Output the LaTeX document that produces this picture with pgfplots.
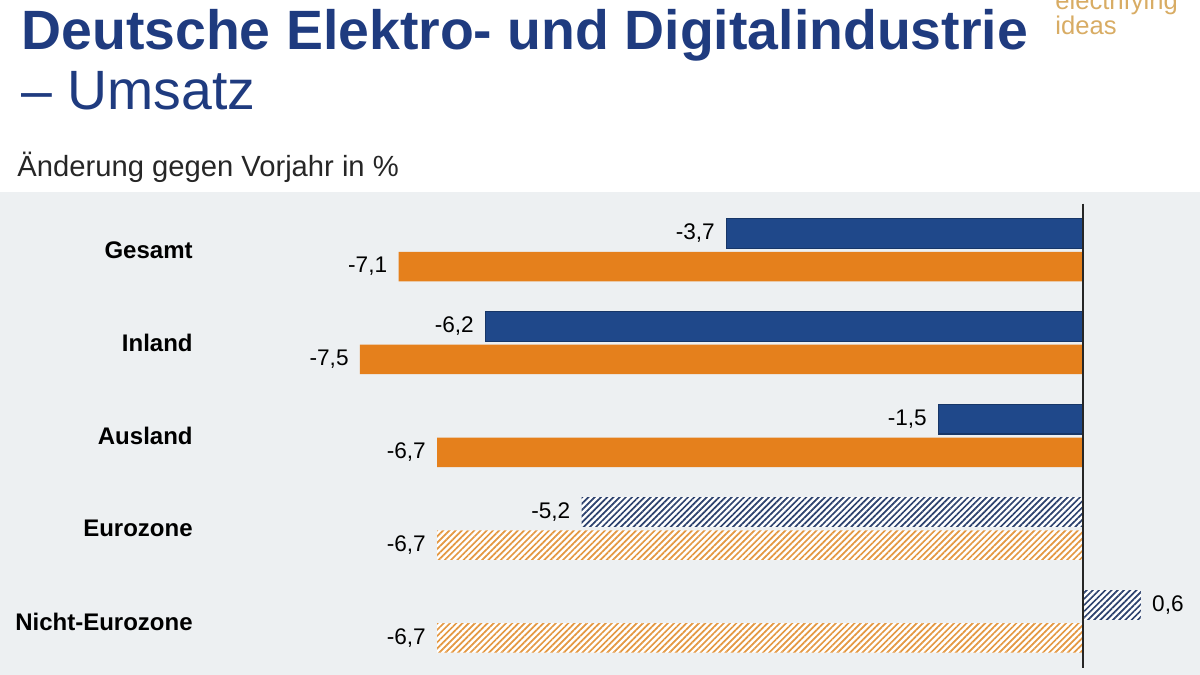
\documentclass[border=0pt]{standalone}
\usepackage{pgfplots}
\pgfplotsset{compat=1.18}
\usetikzlibrary{patterns.meta}
\usepackage{fontspec}
\setmainfont{Liberation Sans}
\definecolor{titleblue}{RGB}{31,59,127}
\definecolor{barblue}{RGB}{31,72,138}
\definecolor{barorange}{RGB}{229,128,28}
\definecolor{hatchblue}{RGB}{45,66,110}
\definecolor{hatchorange}{RGB}{228,152,66}
\definecolor{bggray}{RGB}{237,240,242}
\definecolor{logogold}{RGB}{216,172,100}
\begin{document}
\begin{tikzpicture}
\useasboundingbox (0,0) rectangle (600pt,337.5pt);
\fill[bggray] (0,0) rectangle (600pt,241.5pt);
\node[anchor=base west, inner sep=0, text=titleblue, font=\fontsize{27.7}{32}\selectfont\bfseries] at (10.5pt,312.5pt) {Deutsche Elektro- und Digitalindustrie};
\node[anchor=base west, inner sep=0, text=titleblue, font=\fontsize{27.7}{32}\selectfont] at (10.5pt,282.5pt) {– Umsatz};
\node[anchor=base west, inner sep=0, text=black!85, font=\fontsize{14.6}{17}\selectfont] at (8.5pt,249pt) {Änderung gegen Vorjahr in \%};
\node[anchor=base west, inner sep=0, text=logogold, font=\fontsize{12.8}{15}\selectfont] at (527.5pt,332.5pt) {electrifying};
\node[anchor=base west, inner sep=0, text=logogold, font=\fontsize{12.8}{15}\selectfont] at (527.5pt,320.3pt) {ideas};
\begin{axis}[
  at={(155.9pt,3.55pt)}, anchor=south west,
  scale only axis, width=433.8pt, height=232.15pt,
  xbar, bar width=14.75pt,
  xmin=-8, xmax=1, ymin=-0.5, ymax=4.5,
  clip=false,
  axis line style={draw=none},
  xtick=\empty,
  ytick={0,1,2,3,4},
  yticklabels={Nicht-Eurozone,Eurozone,Ausland,Inland,Gesamt},
  major tick length=0pt,
  yticklabel style={font=\fontsize{12}{14}\selectfont\bfseries, text=black, inner xsep=0pt, xshift=-59.4pt},
  point meta=x,
  nodes near coords={\pgfmathprintnumber[fixed,fixed zerofill,precision=1,use comma,assume math mode=true]{\pgfplotspointmeta}},
  every node near coord/.append style={anchor=east, font=\fontsize{11.3}{13}\selectfont, text=black, inner xsep=5.5pt, inner ysep=1pt},
]
\addplot[fill=barblue, draw=barblue!75!black, line width=0.6pt, bar shift=8.25pt]
  coordinates {(-3.7,4) (-6.2,3) (-1.5,2)};
\addplot[fill=barorange, draw=none, bar shift=-8.25pt]
  coordinates {(-7.1,4) (-7.5,3) (-6.7,2)};
\addplot[fill=white, draw=none, postaction={pattern={Lines[angle=45,distance=2.2pt,line width=0.85pt]}, pattern color=hatchblue}, bar shift=8.25pt]
  coordinates {(-5.2,1)};
\addplot[fill=white, draw=none, postaction={pattern={Lines[angle=45,distance=2.2pt,line width=0.85pt]}, pattern color=hatchblue}, bar shift=8.25pt,
  every node near coord/.append style={anchor=west}]
  coordinates {(0.6,0)};
\addplot[fill=white, draw=none, postaction={pattern={Lines[angle=45,distance=2.2pt,line width=0.85pt]}, pattern color=hatchorange}, bar shift=-8.25pt]
  coordinates {(-6.7,1) (-6.7,0)};
\draw[black!85, line width=0.9pt] (axis cs:0,4.5) -- (axis cs:0,-0.5);
\end{axis}
\end{tikzpicture}
\end{document}
